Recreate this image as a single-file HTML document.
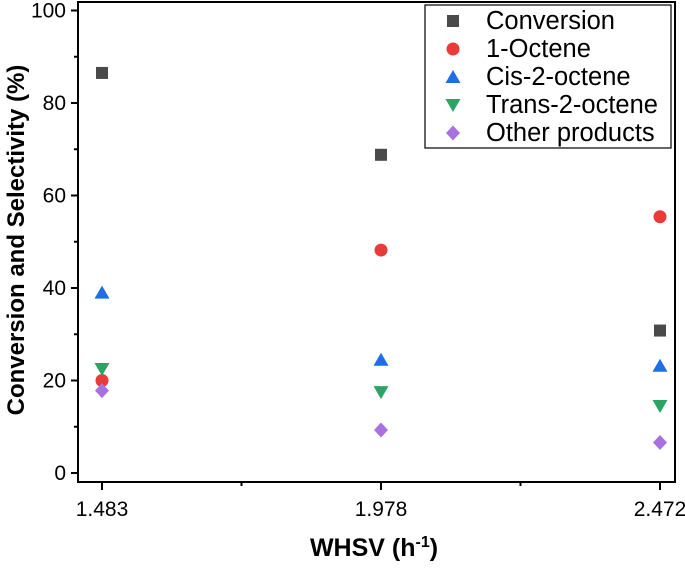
<!DOCTYPE html>
<html><head><meta charset="utf-8"><style>
body{margin:0;background:#fff;width:685px;height:564px;overflow:hidden}
text{font-family:"Liberation Sans",Arial,sans-serif}
</style></head><body>
<svg id="c" width="685" height="564">
<rect x="0" y="0" width="685" height="564" fill="#fff"/>
</svg>
<script>
const categories=["1.483","1.978","2.472"];
const conversion=[86.5,68.8,30.8];
const octene1=[20.0,48.2,55.4];
const cis2=[39.0,24.5,23.2];
const trans2=[22.5,17.5,14.5];
const other=[17.8,9.3,6.6];
const yTicks=[0,20,40,60,80,100];
const seriesNames=["Conversion","1-Octene","Cis-2-octene","Trans-2-octene","Other products"];
const svg=document.getElementById('c');const NS="http://www.w3.org/2000/svg";
function el(t,a,p){const e=document.createElementNS(NS,t);for(const k in a)e.setAttribute(k,a[k]);(p||svg).appendChild(e);return e;}
const L=78,R=675,T=2,B=482;
const y=v=>473-(v/100)*462.5;
const x=i=>102+i*279;
const frame=el('rect',{x:L,y:T,width:R-L,height:B-T,fill:'none',stroke:'#000','stroke-width':2});

yTicks.forEach(v=>{el('line',{x1:L-7,x2:L,y1:y(v),y2:y(v),stroke:'#000','stroke-width':2});
const t=el('text',{x:L-12,y:y(v)+7,'text-anchor':'end','font-size':21});t.textContent=v;
});
for(let k=0;k<5;k++){const v=10+20*k;el('line',{x1:L-4,x2:L,y1:y(v),y2:y(v),stroke:'#000','stroke-width':2});}
categories.forEach((c,i)=>{el('line',{x1:x(i),x2:x(i),y1:B,y2:B+8,stroke:'#000','stroke-width':2});
const t=el('text',{x:x(i),y:516,'text-anchor':'middle','font-size':21});t.textContent=c;

if(i<categories.length-1)el('line',{x1:x(i+0.5),x2:x(i+0.5),y1:B,y2:B+4,stroke:'#000','stroke-width':2});});
const xt=el('text',{x:374,y:556,'text-anchor':'middle','font-size':25,'font-weight':'bold'});
xt.innerHTML='WHSV (h<tspan dy="-9" font-size="16">-1</tspan><tspan dy="9">)</tspan>';

const yt=el('text',{x:0,y:0,'text-anchor':'middle','font-size':24,'font-weight':'bold',transform:'translate(24,240) rotate(-90)'});
yt.textContent='Conversion and Selectivity (%)';

const colors=['#4a4a4a','#ea3b3b','#1f6ee6','#2ba466','#a871e0'];
function marker(k,cx,cy,g){const c=colors[k];
if(k===0)return el('rect',{x:cx-6,y:cy-6,width:12,height:12,fill:c},g);
if(k===1)return el('circle',{cx:cx,cy:cy,r:6.5,fill:c},g);
if(k===2)return el('polygon',{points:`${cx},${cy-7} ${cx+7.5},${cy+6} ${cx-7.5},${cy+6}`,fill:c},g);
if(k===3)return el('polygon',{points:`${cx},${cy+7} ${cx+7.5},${cy-6} ${cx-7.5},${cy-6}`,fill:c},g);
return el('polygon',{points:`${cx},${cy-7.5} ${cx+7},${cy} ${cx},${cy+7.5} ${cx-7},${cy}`,fill:c},g);}
[conversion,octene1,cis2,trans2,other].forEach((s,k)=>{const g=el('g',{});

s.forEach((v,i)=>{const m=marker(k,x(i),y(v),g);});});
const lg=el('g',{});
el('rect',{x:425,y:5,width:246,height:143,fill:'#fff',stroke:'#000','stroke-width':1.2},lg);
seriesNames.forEach((n,k)=>{const yy=21+k*28;const e=el('g',{},lg);

marker(k,453,yy,e);const t=el('text',{x:486,y:yy+8,'font-size':25.5},e);t.textContent=n;});
</script>
</body></html>
